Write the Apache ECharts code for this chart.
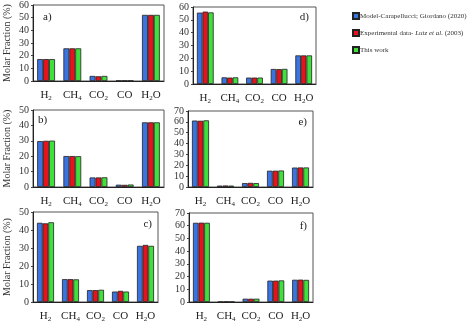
<!DOCTYPE html>
<html>
<head>
<meta charset="utf-8">
<script src="https://cdn.jsdelivr.net/npm/echarts@6/dist/echarts.min.js"></script>
<style>
  html, body { margin: 0; padding: 0; background: #fff; }
  #chart { width: 474px; height: 323px; }
</style>
</head>
<body>
<div id="chart"></div>
<script>
// Gas species shown on every panel (main symbol + subscript)
const categories = ['H|2', 'CH|4', 'CO|2', 'CO|', 'H|2|O'];
const seriesNames = [
  'Model-Carapellucci; Giordano (2020)',
  'Experimental data- Lutz et al. (2003)',
  'This work'
];
const panelLabels = ['a)', 'b)', 'c)', 'd)', 'e)', 'f)'];
const axisMax = [60, 50, 50, 60, 70, 70];
const axisStep = [10, 10, 10, 10, 10, 10];

// Molar fractions (%) per panel: model, experimental, this work
const modelA = [17.3, 25.8, 4.0, 0.3, 52.2];
const expA   = [17.3, 25.8, 3.7, 0.3, 52.2];
const workA  = [17.3, 25.8, 4.0, 0.3, 52.2];

const modelB = [29.8, 20.1, 6.2, 1.5, 42.0];
const expB   = [30.0, 20.1, 6.2, 1.4, 42.0];
const workB  = [30.1, 20.0, 6.3, 1.6, 42.0];

const modelC = [44.0, 12.7, 6.6, 5.8, 31.2];
const expC   = [43.7, 12.7, 6.6, 6.2, 31.7];
const workC  = [44.3, 12.6, 6.8, 5.8, 31.2];

const modelD = [55.6, 5.2, 5.0, 11.7, 22.3];
const expD   = [56.4, 5.0, 5.0, 11.6, 22.3];
const workD  = [55.8, 5.2, 5.0, 11.8, 22.3];

const modelE = [61.2, 1.3, 3.6, 15.0, 17.9];
const expE   = [61.0, 1.4, 3.8, 15.0, 18.0];
const workE  = [61.4, 1.3, 3.6, 15.2, 18.0];

const modelF = [62.3, 0.2, 2.6, 16.8, 17.5];
const expF   = [62.4, 0.3, 2.6, 16.8, 17.6];
const workF  = [62.3, 0.2, 2.6, 17.0, 17.4];

const panelData = [
  [modelA, expA, workA],
  [modelB, expB, workB],
  [modelC, expC, workC],
  [modelD, expD, workD],
  [modelE, expE, workE],
  [modelF, expF, workF]
];

// Layout of the six plot boxes
const grids = [
  { left: 33,  top: 5,   width: 131, height: 76 },
  { left: 33,  top: 110, width: 131, height: 77 },
  { left: 33,  top: 212, width: 125, height: 90 },
  { left: 193, top: 7,   width: 123, height: 77 },
  { left: 188, top: 111, width: 125, height: 76 },
  { left: 189, top: 213, width: 124, height: 90 }
];
const labelPos = [
  { x: 43, y: 12, align: 'left' },
  { x: 38, y: 115, align: 'left' },
  { x: 152, y: 219, align: 'right' },
  { x: 309, y: 12, align: 'right' },
  { x: 307, y: 117, align: 'right' },
  { x: 307, y: 221, align: 'right' }
];

const colors = ['#3b73e0', '#e8121c', '#3fe03c'];
const serif = 'Liberation Serif';

function speciesLabel(v) {
  const p = v.split('|');
  let s = '{m|' + p[0] + '}';
  if (p[1]) s += '{s|' + p[1] + '}';
  if (p[2]) s += '{m|' + p[2] + '}';
  return s;
}

const option = {
  animation: false,
  color: colors,
  textStyle: { fontFamily: serif },
  legend: {
    orient: 'vertical',
    left: 347,
    top: 7,
    itemWidth: 6,
    itemHeight: 6,
    itemGap: 9,
    icon: 'rect',
    data: seriesNames,
    formatter: function (n) {
      if (n.indexOf('Lutz') >= 0) return 'Experimental data- {i|Lutz et al.} (2003)';
      return n;
    },
    textStyle: {
      fontFamily: serif, fontSize: 7, color: '#333', padding: [0, 0, 0, -4],
      rich: { i: { fontFamily: serif, fontSize: 7, fontStyle: 'italic', color: '#333' } }
    }
  },
  grid: [],
  xAxis: [],
  yAxis: [],
  series: [],
  graphic: []
};

grids.forEach(function (g, i) {
  option.grid.push(Object.assign({ show: true, borderColor: '#555', borderWidth: 1, backgroundColor: 'transparent' }, g));
  option.xAxis.push({
    type: 'category',
    gridIndex: i,
    data: categories,
    axisLine: { lineStyle: { color: '#222', width: 1 } },
    axisTick: { show: false },
    axisLabel: {
      interval: 0,
      hideOverlap: false,
      margin: 7,
      formatter: speciesLabel,
      rich: {
        m: { fontFamily: serif, fontSize: 11, color: '#222', lineHeight: 14, verticalAlign: 'middle' },
        s: { fontFamily: serif, fontSize: 7, color: '#222', lineHeight: 14, verticalAlign: 'bottom', padding: [3, 0, 0, 0] }
      }
    }
  });
  const left = i < 3;
  option.yAxis.push({
    type: 'value',
    gridIndex: i,
    min: 0,
    max: axisMax[i],
    interval: axisStep[i],
    name: left ? 'Molar Fraction (%)' : '',
    nameLocation: 'middle',
    nameGap: 21,
    nameTextStyle: { fontFamily: serif, fontSize: 10, color: '#333' },
    axisLine: { show: true, lineStyle: { color: '#222', width: 1 } },
    axisTick: { show: true, length: 2, lineStyle: { color: '#444' } },
    axisLabel: { fontFamily: serif, fontSize: 10, color: '#333', margin: 4 },
    splitLine: { show: false }
  });
  panelData[i].forEach(function (vals, k) {
    option.series.push({
      type: 'bar',
      name: seriesNames[k],
      xAxisIndex: i,
      yAxisIndex: i,
      data: vals,
      barGap: '0%',
      barCategoryGap: '32%',
      itemStyle: { color: colors[k], borderColor: '#222', borderWidth: 0.8 }
    });
  });
  const lp = labelPos[i];
  option.graphic.push({
    type: 'text',
    left: lp.align === 'left' ? lp.x : undefined,
    right: lp.align === 'right' ? 474 - lp.x : undefined,
    top: lp.y,
    style: { text: panelLabels[i], font: '11px "Liberation Serif"', fill: '#222' }
  });
});

const chart = echarts.init(document.getElementById('chart'), null, { renderer: 'canvas' });
chart.setOption(option);
</script>
</body>
</html>
